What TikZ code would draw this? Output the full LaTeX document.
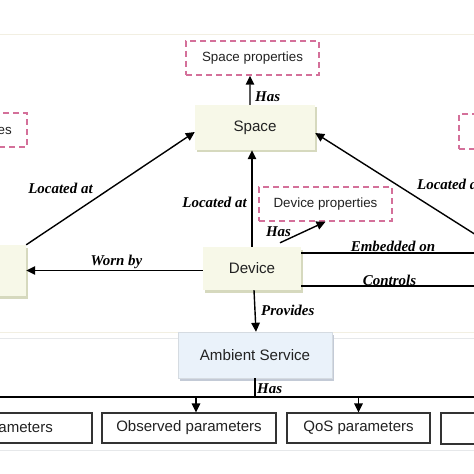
\documentclass[tikz,border=0pt]{standalone}
\usepackage{fontspec}
\setmainfont{Liberation Serif}
\setsansfont{Liberation Sans}
\usetikzlibrary{arrows.meta,calc,shadows}
\definecolor{pinkd}{HTML}{D4709A}
\definecolor{yfill}{HTML}{F7F8E8}
\definecolor{yshadow}{HTML}{D6D9BE}
\definecolor{bfill}{HTML}{EAF2FA}
\definecolor{bshadow}{HTML}{C3CAD6}
\definecolor{textc}{HTML}{222222}
\definecolor{boxline}{HTML}{333333}
\definecolor{faintb}{HTML}{F2EFE2}
\definecolor{faintg}{HTML}{E6E8EA}
\begin{document}
\begin{tikzpicture}[x=1bp,y=-1bp,
  propbox/.style={draw=pinkd, line width=1.4bp, dash pattern=on 6bp off 4bp,
    font=\sffamily\fontsize{13.4}{15}\selectfont, text=textc, inner sep=0, minimum height=34bp},
  ybox/.style={fill=yfill, inner sep=0, font=\sffamily\fontsize{15.2}{17}\selectfont, text=textc,
    drop shadow={shadow xshift=1.5bp, shadow yshift=-2.5bp, fill=yshadow, opacity=1}},
  bbox/.style={fill=bfill, draw=bfill!80!gray, line width=0.4bp, inner sep=0,
    font=\sffamily\fontsize{15.2}{17}\selectfont, text=textc,
    drop shadow={shadow xshift=1.5bp, shadow yshift=-2.5bp, fill=bshadow, opacity=1}},
  parbox/.style={draw=boxline, line width=1.2bp, inner sep=0, minimum height=30bp,
    font=\sffamily\fontsize{15.1}{17}\selectfont, text=textc},
  rel/.style={font=\rmfamily\bfseries\itshape\fontsize{15}{17}\selectfont, inner sep=0, text=black},
  conn/.style={line width=1.4bp, -{Triangle[length=9bp,width=8.5bp]}},
  plain/.style={line width=1.4bp}
]
\useasboundingbox (0,0) rectangle (474,474);
\clip (0,0) rectangle (474,474);
\fill[white] (0,0) rectangle (474,474);
% faint background frame lines
\draw[faintb, line width=1bp] (0,35) -- (474,35);
\draw[faintb, line width=1bp] (0,332) -- (474,332);
\draw[faintg, line width=1bp] (0,338) -- (474,338);
\draw[faintg, line width=1bp] (0,450) -- (474,450);

% property boxes
\node[propbox, minimum width=133bp] (sprop) at (252.5,58) {Space properties};
\node[propbox, minimum width=133bp] (dprop) at (325.5,204) {Device properties};
\node[propbox, minimum width=128bp] (lprop) at (-37,130) {};
\node[rel, font=\sffamily\fontsize{13.4}{15}\selectfont, text=textc, anchor=east] (lproptxt) at (12,131) {es};
\node[propbox, minimum width=122bp, minimum height=35bp] (rprop) at (520,131.5) {};

% main boxes
\node[ybox, minimum width=120bp, minimum height=45bp] (space) at (255,127.5) {Space};
\node[ybox, minimum width=98bp, minimum height=43bp] (device) at (252,268.5) {Device};
\node[ybox, minimum width=86bp, minimum height=51bp] (lnode) at (-17,270.5) {};
\node[ybox, minimum width=88bp, minimum height=67bp] (rnode) at (520,268.5) {};
\node[bbox, minimum width=154bp, minimum height=46bp] (amb) at (255,355) {Ambient Service};

% parameter boxes
\node[parbox, minimum width=172bp] (b1) at (6,428) {};
\node[rel, font=\sffamily\fontsize{15.1}{17}\selectfont, text=textc, anchor=east] (b1txt) at (53,428) {ameters};
\node[parbox, minimum width=174bp] (b2) at (189,428) {Observed parameters};
\node[parbox, minimum width=143bp] (b3) at (358.5,428) {QoS parameters};
\node[parbox, minimum width=120bp, minimum height=31bp] (b4) at (501,428.5) {};

% connectors
\draw[conn] ([xshift=-5bp]space.north) -- ([xshift=-2.5bp]sprop.south);
\draw[conn] (lnode.north east) -- ([yshift=-4.5bp]space.west);
\draw[conn] (rnode.north west) -- ([yshift=-5.5bp]space.east);
\draw[conn] (device.north) -- (device.north |- space.south);
\draw[conn] ([xshift=28bp,yshift=4bp]device.north) -- (dprop.south);
\draw[conn] (device.west |- lnode.east) -- (lnode.east);
\draw[plain] ([yshift=15.5bp]device.east) -- ([yshift=15.5bp]rnode.west);
\draw[plain] ([yshift=-17.5bp]device.east) -- ([yshift=-17.5bp]rnode.west);
\draw[conn] ([xshift=2bp]device.south) -- ([xshift=1bp]amb.north);
\coordinate (busc) at (255,397);
\draw[line width=1.2bp] (amb.south) -- (busc);
\draw[line width=1.2bp] (b1.north west |- busc) -- (b4.north east |- busc);
\draw[conn] ($(b2.north)+(7,-16)$) -- ($(b2.north)+(7,0)$);
\draw[conn] ($(b3.north)+(0,-16)$) -- (b3.north);

% relation labels
\node[rel, anchor=west] (has1) at (255,97) {Has};
\node[rel] (loc1) at (60.5,188) {Located at};
\node[rel, anchor=east] (loc2) at (247,202) {Located at};
\node[rel, anchor=west] (loc3) at (417,184) {Located at};
\node[rel] (has2) at (278.5,232) {Has};
\node[rel] (worn) at (116.5,262) {Worn by};
\node[rel] (emb) at (393,246) {Embedded on};
\node[rel] (ctrl) at (389.5,280) {Controls};
\node[rel, anchor=west] (prov) at (261,310) {Provides};
\node[rel, anchor=west] (has3) at (257,389) {Has};
\end{tikzpicture}
\end{document}
